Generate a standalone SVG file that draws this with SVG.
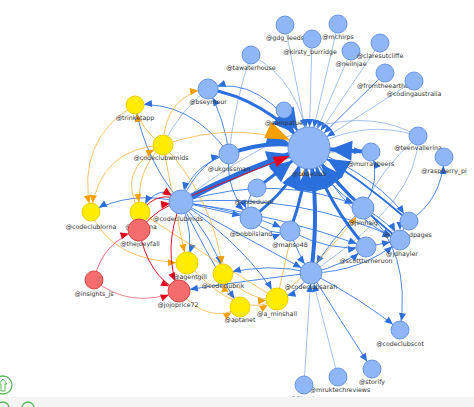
<svg xmlns="http://www.w3.org/2000/svg" width="474" height="407" viewBox="0 0 474 407">
<style>
.e{fill:none;stroke:#2f73df;stroke-width:1;stroke-opacity:.85}
.l{fill:none;stroke:#6f9fe9;stroke-width:.8;stroke-opacity:.8}
.t{fill:none;stroke:#2a6fdc}
.o{fill:none;stroke:#f5a623;stroke-width:.9;stroke-opacity:.75}
.r{fill:none;stroke:#e3102a;stroke-width:1}
.nb circle{fill:#8fb6f6;stroke:#6895e4;stroke-width:1}
.ny circle{fill:#ffec00;stroke:#f2cf00;stroke-width:1}
.nr circle{fill:#f46c6c;stroke:#d94848;stroke-width:1}
text{font-family:"DejaVu Sans","Liberation Sans",sans-serif;font-size:6.3px;fill:#333;text-anchor:middle}
</style>
<defs>
<marker id="b9" markerUnits="userSpaceOnUse" orient="auto" overflow="visible" refX="17" refY="0"><path d="M0,-3.5L8,0L0,3.5z" fill="#2c6fdc"/></marker>
<marker id="b10" markerUnits="userSpaceOnUse" orient="auto" overflow="visible" refX="18" refY="0"><path d="M0,-3.5L8,0L0,3.5z" fill="#2c6fdc"/></marker>
<marker id="b11" markerUnits="userSpaceOnUse" orient="auto" overflow="visible" refX="19" refY="0"><path d="M0,-3.5L8,0L0,3.5z" fill="#2c6fdc"/></marker>
<marker id="b12" markerUnits="userSpaceOnUse" orient="auto" overflow="visible" refX="20" refY="0"><path d="M0,-3.5L8,0L0,3.5z" fill="#2c6fdc"/></marker>
<marker id="b21" markerUnits="userSpaceOnUse" orient="auto" overflow="visible" refX="29" refY="0"><path d="M0,-3.5L8,0L0,3.5z" fill="#2c6fdc"/></marker>
<marker id="B21" markerUnits="userSpaceOnUse" orient="auto" overflow="visible" refX="43" refY="0"><path d="M0,-10L22,0L0,10z" fill="#2a6fdc"/></marker>
<marker id="o9" markerUnits="userSpaceOnUse" orient="auto" overflow="visible" refX="17" refY="0"><path d="M0,-3.5L8,0L0,3.5z" fill="#f5a000"/></marker>
<marker id="o10" markerUnits="userSpaceOnUse" orient="auto" overflow="visible" refX="18" refY="0"><path d="M0,-3.5L8,0L0,3.5z" fill="#f5a000"/></marker>
<marker id="o11" markerUnits="userSpaceOnUse" orient="auto" overflow="visible" refX="19" refY="0"><path d="M0,-3.5L8,0L0,3.5z" fill="#f5a000"/></marker>
<marker id="o21" markerUnits="userSpaceOnUse" orient="auto" overflow="visible" refX="29" refY="0"><path d="M0,-3.5L8,0L0,3.5z" fill="#f5a000"/></marker>
<marker id="O21" markerUnits="userSpaceOnUse" orient="auto" overflow="visible" refX="45" refY="0"><path d="M0,-9L24,0L0,9z" fill="#f5a000"/></marker>
<marker id="r11" markerUnits="userSpaceOnUse" orient="auto" overflow="visible" refX="19" refY="0"><path d="M0,-3.5L8,0L0,3.5z" fill="#e3001b"/></marker>
<marker id="r12" markerUnits="userSpaceOnUse" orient="auto" overflow="visible" refX="20" refY="0"><path d="M0,-4L9,0L0,4z" fill="#e3001b"/></marker>
<marker id="R21" markerUnits="userSpaceOnUse" orient="auto" overflow="visible" refX="37" refY="0"><path d="M0,-5.5L16,0L0,5.5z" fill="#e3001b"/></marker>
</defs>
<rect width="474" height="407" fill="#fff"/>
<g id="connectors">
<path class="l" d="M285,25L309,148" marker-end="url(#b21)"/>
<path class="l" d="M312,39L309,148" marker-end="url(#b21)"/>
<path class="l" d="M338,24L309,148" marker-end="url(#b21)"/>
<path class="l" d="M351,51L309,148" marker-end="url(#b21)"/>
<path class="l" d="M380,43L309,148" marker-end="url(#b21)"/>
<path class="e" d="M385,73L309,148" stroke-width="1.5" marker-end="url(#b21)"/>
<path class="l" d="M414,81L309,148" marker-end="url(#b21)"/>
<path class="l" d="M251,55Q300,80 309,148" marker-end="url(#b21)"/>
<path class="l" d="M309,148Q365,118 418,136"/>
<path class="l" d="M418,136Q380,170 363,208"/>
<path class="l" d="M181,202Q330,85 418,136"/>
<path class="l" d="M311,273Q420,200 418,136"/>
<path class="l" d="M181,202Q280,145 371,152" marker-end="url(#b9)"/>
<path class="l" d="M251,55Q235,100 229,154"/>
<path class="l" d="M208,89Q180,110 163,145"/>
<path class="e" d="M309,148Q260,72 208,89" stroke-width="1.2" marker-end="url(#b10)"/>
<path class="e" d="M229,154Q225,120 208,89" stroke-width="1.5" marker-end="url(#b10)"/>
<path class="e" d="M229,154Q190,100 135,105" marker-end="url(#b9)"/>
<path class="e" d="M181,202Q145,160 135,105" marker-end="url(#b9)"/>
<path class="e" d="M181,202Q130,190 91,212" marker-end="url(#b9)"/>
<path class="e" d="M181,202Q160,178 140,212" stroke-width="1.5" marker-end="url(#b10)"/>
<path class="e" d="M229,154Q190,165 181,202" marker-end="url(#b12)"/>
<path class="e" d="M181,202Q200,160 229,154" marker-end="url(#b10)"/>
<path class="e" d="M181,202Q195,235 187,263" stroke-width="1.4" marker-end="url(#b11)"/>
<path class="e" d="M181,202Q215,240 223,274" marker-end="url(#b10)"/>
<path class="e" d="M181,202Q215,270 240,307" marker-end="url(#b10)"/>
<path class="e" d="M181,202Q250,250 277,299" marker-end="url(#b11)"/>
<path class="e" d="M181,202L251,218" stroke-width="2" marker-end="url(#b11)"/>
<path class="e" d="M181,202Q240,210 290,231" stroke-width="2" marker-end="url(#b10)"/>
<path class="e" d="M181,202Q250,240 311,273" stroke-width="2" marker-end="url(#b11)"/>
<path class="e" d="M181,202Q280,172 363,208" stroke-width="1.5" marker-end="url(#b11)"/>
<path class="e" d="M181,202Q280,215 366,247" marker-end="url(#b10)"/>
<path class="e" d="M181,202Q300,192 400,240" marker-end="url(#b10)"/>
<path class="e" d="M311,273Q250,280 179,291" marker-end="url(#b11)"/>
<path class="e" d="M311,273Q300,292 277,299" marker-end="url(#b11)"/>
<path class="e" d="M311,273Q270,262 223,274" marker-end="url(#b10)"/>
<path class="e" d="M311,273Q360,298 400,330" marker-end="url(#b9)"/>
<path class="e" d="M311,273Q340,320 372,369" marker-end="url(#b9)"/>
<path class="l" d="M338,377L311,273" marker-end="url(#b11)"/>
<path class="l" d="M304,385L311,273" marker-end="url(#b11)"/>
<path class="e" d="M363,208Q412,250 400,330" marker-end="url(#b9)"/>
<path class="e" d="M409,221Q442,200 444,157" marker-end="url(#b9)"/>
<path class="e" d="M363,208Q382,180 371,152" stroke-width="2" marker-end="url(#b9)"/>
<path class="e" d="M309,148Q330,192 363,208" marker-end="url(#b11)"/>
<path class="e" d="M309,148Q380,178 409,221" marker-end="url(#b9)"/>
<path class="e" d="M309,148Q350,222 400,240" marker-end="url(#b10)"/>
<path class="e" d="M363,208Q390,222 400,240" marker-end="url(#b10)"/>
<path class="e" d="M366,247L400,240" stroke-width="1.5" marker-end="url(#b10)"/>
<path class="e" d="M290,231Q330,252 366,247" marker-end="url(#b10)"/>
<path class="e" d="M311,273Q345,265 366,247" stroke-width="2" marker-end="url(#b10)"/>
<path class="e" d="M311,273Q362,272 400,240" marker-end="url(#b10)"/>
<path class="e" d="M251,218Q270,238 290,231" stroke-width="2" marker-end="url(#b10)"/>
<path class="e" d="M257,188Q242,200 251,218" marker-end="url(#b11)"/>
<path class="e" d="M229,154Q225,192 251,218" marker-end="url(#b11)"/>
<path class="e" d="M290,231Q298,255 311,273" marker-end="url(#b11)"/>
<path class="e" d="M363,208Q330,240 311,273" stroke-width="1.5" marker-end="url(#b11)"/>
<path class="e" d="M409,221Q400,232 400,240" marker-end="url(#b10)"/>
<path class="o" d="M163,145Q165,95 208,89" marker-end="url(#o10)"/>
<path class="o" d="M163,145Q140,130 135,105" marker-end="url(#o9)"/>
<path class="o" d="M163,145Q100,148 91,212" marker-end="url(#o9)"/>
<path class="o" d="M135,105Q75,140 91,212" marker-end="url(#o9)"/>
<path class="o" d="M163,145Q135,170 140,212" marker-end="url(#o10)"/>
<path class="o" d="M163,145Q175,210 187,263" marker-end="url(#o11)"/>
<path class="o" d="M91,212Q110,262 187,263" marker-end="url(#o11)"/>
<path class="o" d="M163,145Q215,200 223,274" marker-end="url(#o10)"/>
<path class="o" d="M140,212Q115,170 163,145" marker-end="url(#o10)"/>
<path class="o" d="M140,212Q210,258 277,299"/>
<path class="o" d="M277,299Q295,220 309,148" marker-end="url(#o21)"/>
<path class="o" d="M277,299Q322,262 363,208" stroke-width="1.3" marker-end="url(#o11)"/>
<path class="o" d="M240,307Q225,295 223,274" marker-end="url(#o10)"/>
<path class="o" d="M223,274Q250,302 277,299" marker-end="url(#o11)"/>
<path class="o" d="M187,263Q240,322 277,299" marker-end="url(#o11)"/>
<path class="o" d="M179,291Q210,326 240,307" marker-end="url(#o10)"/>
<path class="r" d="M139,230Q160,205 181,202" marker-end="url(#r12)"/>
<path class="r" d="M140,212Q160,188 181,202" marker-end="url(#r12)"/>
<path class="r" d="M94,280Q102,242 139,230" stroke-opacity=".6" marker-end="url(#r11)"/>
<path class="r" d="M94,280Q130,310 179,291" stroke-opacity=".5" marker-end="url(#r11)"/>
<path class="r" d="M139,230Q148,276 179,291" stroke="#b0001a" marker-end="url(#r11)"/>
<path class="r" d="M181,202Q162,250 179,291" marker-end="url(#r11)"/>
<path class="t" d="M208,89Q262,98 309,148" stroke-width="3" marker-end="url(#B21)"/>
<path class="t" d="M229,154Q270,138 309,148" stroke-width="4" marker-end="url(#B21)"/>
<path class="t" d="M181,202Q245,168 309,148" stroke-width="6" marker-end="url(#B21)"/>
<path class="t" d="M257,188L309,148" stroke-width="3" marker-end="url(#B21)"/>
<path class="t" d="M251,218Q290,190 309,148" stroke-width="3" marker-end="url(#B21)"/>
<path class="t" d="M290,231Q305,190 309,148" stroke-width="3" marker-end="url(#B21)"/>
<path class="t" d="M311,273Q320,210 309,148" stroke-width="4" marker-end="url(#B21)"/>
<path class="t" d="M366,247Q330,208 309,148" stroke-width="3" marker-end="url(#B21)"/>
<path class="t" d="M363,208Q336,184 309,148" stroke-width="3" marker-end="url(#B21)"/>
<path class="t" d="M371,152L309,148" stroke-width="4" marker-end="url(#B21)"/>
<path class="t" d="M400,240Q350,200 309,148" stroke-width="2" marker-end="url(#B21)"/>
<path class="t" d="M409,221Q360,178 309,148" stroke-width="2" marker-end="url(#B21)"/>
<path class="t" d="M284,110L309,148" stroke-width="2" marker-end="url(#B21)"/>
<path class="o" d="M163,145Q240,118 309,148" stroke-width="4" stroke-opacity="1" marker-end="url(#O21)"/>
<path class="r" d="M183,199L309,148" stroke-width="2" marker-end="url(#R21)"/>
</g>
<g id="nodes">
<g id="n-gdg_leeds" class="nb"><circle cx="285" cy="25" r="9"/><text x="285" y="40">@gdg_leeds</text></g>
<g id="n-kirsty_burridge" class="nb"><circle cx="312" cy="39" r="9"/><text x="310" y="54">@kirsty_burridge</text></g>
<g id="n-mchirps" class="nb"><circle cx="338" cy="24" r="9"/><text x="338" y="39">@mchirps</text></g>
<g id="n-neilnjae" class="nb"><circle cx="351" cy="51" r="9"/><text x="351" y="66">@neilnjae</text></g>
<g id="n-claresutcliffe" class="nb"><circle cx="380" cy="43" r="9"/><text x="380" y="58">@claresutcliffe</text></g>
<g id="n-fromtheearthup" class="nb"><circle cx="385" cy="73" r="9"/><text x="385" y="88">@fromtheearthup</text></g>
<g id="n-codingaustralia" class="nb"><circle cx="414" cy="81" r="9"/><text x="414" y="96">@codingaustralia</text></g>
<g id="n-tawaterhouse" class="nb"><circle cx="251" cy="55" r="9"/><text x="251" y="70">@tawaterhouse</text></g>
<g id="n-bseymour" class="nb"><circle cx="208" cy="89" r="10"/><text x="208" y="104">@bseymour</text></g>
<g id="n-sampatue" class="nb"><circle cx="284" cy="110" r="8"/><text x="284" y="125">@sampatue</text></g>
<g id="n-murraybeers" class="nb"><circle cx="371" cy="152" r="9"/><text x="371" y="166">@murraybeers</text></g>
<g id="n-teenvallerina" class="nb"><circle cx="418" cy="136" r="9"/><text x="418" y="150">@teenvallerina</text></g>
<g id="n-raspberry_pi" class="nb"><circle cx="444" cy="157" r="9"/><text x="444" y="173">@raspberry_pi</text></g>
<g id="n-ukgossman" class="nb"><circle cx="229" cy="154" r="10"/><text x="229" y="171">@ukgossman</text></g>
<g id="n-codeduoni" class="nb"><circle cx="257" cy="188" r="9"/><text x="254" y="204">@codeduoni</text></g>
<g id="n-sciencepages" class="nb"><circle cx="409" cy="221" r="9"/><text x="408" y="237">@spacedpages</text></g>
<g id="n-jimhaig" class="nb"><circle cx="363" cy="208" r="11"/><text x="363" y="225">@jimhaig</text></g>
<g id="n-jdhayler" class="nb"><circle cx="400" cy="240" r="10"/><text x="402" y="256">@jdhayler</text></g>
<g id="n-scottturneruon" class="nb"><circle cx="366" cy="247" r="10"/><text x="366" y="263">@scottturneruon</text></g>
<g id="n-bobbilsland" class="nb"><circle cx="251" cy="218" r="11"/><text x="251" y="236">@bobbilsland</text></g>
<g id="n-manso48" class="nb"><circle cx="290" cy="231" r="10"/><text x="290" y="247">@manso48</text></g>
<g id="n-codeclubsarah" class="nb"><circle cx="311" cy="273" r="11"/><text x="311" y="289">@codeclubsarah</text></g>
<g id="n-codeclubscot" class="nb"><circle cx="400" cy="330" r="9"/><text x="400" y="346">@codeclubscot</text></g>
<g id="n-storify" class="nb"><circle cx="372" cy="369" r="9"/><text x="372" y="384">@storify</text></g>
<g id="n-mruktechreviews" class="nb"><circle cx="338" cy="377" r="9"/><text x="340" y="392">@mruktechreviews</text></g>
<g id="n-fth_nix" class="nb"><circle cx="304" cy="385" r="9"/><text x="304" y="401">@fth_nix</text></g>
<g id="n-trinketapp" class="ny"><circle cx="135" cy="105" r="9"/><text x="135" y="120">@trinketapp</text></g>
<g id="n-codeclubwmids" class="ny"><circle cx="163" cy="145" r="10"/><text x="161" y="160">@codeclubwmids</text></g>
<g id="n-codeclublorna" class="ny"><circle cx="91" cy="212" r="9"/><text x="91" y="229">@codeclublorna</text></g>
<g id="n-kna" class="ny"><circle cx="140" cy="212" r="10"/><text x="141" y="229">@kjelorna</text></g>
<g id="n-codeclubmids" class="nb"><circle cx="181" cy="202" r="12"/><text x="178" y="221">@codeclubmids</text></g>
<g id="n-thejoeyfall" class="nr"><circle cx="139" cy="230" r="11"/><text x="140" y="246">@thejoeyfall</text></g>
<g id="n-insights_js" class="nr"><circle cx="94" cy="280" r="9"/><text x="94" y="296">@insights_js</text></g>
<g id="n-agentgill" class="ny"><circle cx="187" cy="263" r="11"/><text x="190" y="279">@agentgill</text></g>
<g id="n-jojoprice72" class="nr"><circle cx="179" cy="291" r="11"/><text x="178" y="307">@jojoprice72</text></g>
<g id="n-codeclubrik" class="ny"><circle cx="223" cy="274" r="10"/><text x="223" y="288">@codeclubrik</text></g>
<g id="n-aptanet" class="ny"><circle cx="240" cy="307" r="10"/><text x="240" y="322">@aptanet</text></g>
<g id="n-a_minshall" class="ny"><circle cx="277" cy="299" r="11"/><text x="277" y="316">@a_minshall</text></g>
<g id="n-codeclub" class="nb"><circle cx="309" cy="148" r="21"/><text x="309" y="176">@codeclub</text></g>
</g>
<rect x="0" y="397" width="474" height="10" fill="#f4f4f4"/>
<circle cx="3" cy="385" r="9" fill="none" stroke="#5cb85c" stroke-width="1.3"/>
<path d="M3,379L-1,384H1V391H5V384H7z" fill="none" stroke="#5cb85c" stroke-width="1"/>
<circle cx="3" cy="408" r="6" fill="none" stroke="#5cb85c" stroke-width="1.3"/>
<circle cx="28" cy="408" r="6" fill="none" stroke="#5cb85c" stroke-width="1.3"/>
</svg>
